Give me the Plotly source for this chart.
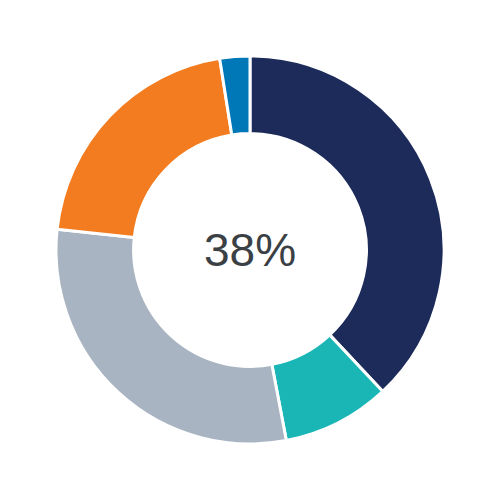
import plotly.graph_objects as go

labels = ["Navy", "Teal", "Gray", "Orange", "Blue"]
values = [38, 9.0, 29.7, 20.8, 2.5]
colors = ["#1c2b5a", "#1ab6b6", "#a9b4c2", "#f47c20", "#0078b8"]
center_text = "38%"

fig = go.Figure(go.Pie(
    labels=labels,
    values=values,
    hole=0.6,
    sort=False,
    direction="clockwise",
    rotation=0,
    marker=dict(colors=colors, line=dict(color="white", width=3)),
    textinfo="none",
    hoverinfo="label+percent",
    showlegend=False,
))

# page body adds 8px offset, so margins are uneven on purpose
fig.update_layout(
    width=500,
    height=500,
    margin=dict(l=48, r=64, t=48, b=64),
    paper_bgcolor="white",
    plot_bgcolor="white",
    annotations=[dict(
        text=center_text,
        x=0.5, y=0.5, xref="paper", yref="paper",
        showarrow=False,
        font=dict(family="Liberation Sans, Arial", size=46, color="#3b4045"),
    )],
)

fig.write_html("out.html")
